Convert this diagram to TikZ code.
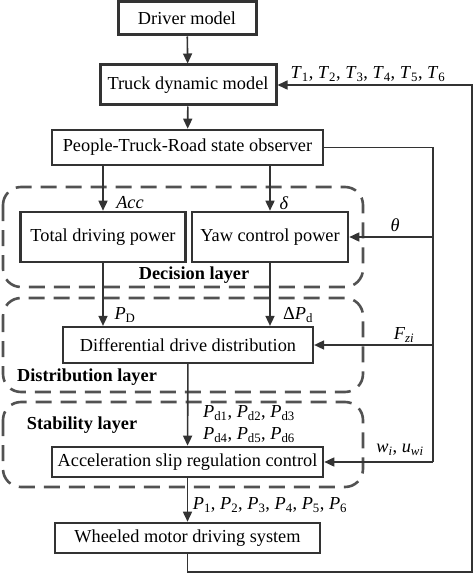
\documentclass[tikz,border=0pt]{standalone}
\usepackage{fontspec}
\setmainfont{Liberation Serif}
\usetikzlibrary{arrows.meta}
\definecolor{ink}{HTML}{333333}
\newcommand{\vs}[2]{\textit{#1}\textsubscript{#2}}

\begin{document}
\begin{tikzpicture}[line join=miter,>={Triangle[length=10pt,width=9pt]},x=1pt,y=-1pt,
  every node/.style={font=\fontsize{18.3}{21}\selectfont},
  box/.style={draw=ink,line width=2.6pt,inner sep=0pt},
  link/.style={draw=ink,line width=1.6pt},
  layer/.style={draw=ink!85,line width=2.6pt,dash pattern=on 16pt off 9pt,rounded corners=18pt},
  laytxt/.style={font=\fontsize{18.3}{21}\selectfont\bfseries}]
\useasboundingbox (0,0) rectangle (474,575);
% layers
\draw[layer] (3,187) rectangle (363,287);
\draw[layer] (3,298) rectangle (363,392);
\draw[layer] (3,402) rectangle (363,487);
\node[laytxt] (dec) at (194,275) {Decision layer};
\node[laytxt] (dis) at (87,377) {Distribution layer};
\node[laytxt] (sta) at (82,425) {Stability layer};
% blocks
\node[box,line width=3pt,minimum width=138,minimum height=33] (drv) at (187,18.5) {Driver model};
\node[box,line width=3pt,minimum width=176,minimum height=40] (trk) at (188,85) {Truck dynamic model};
\node[box,minimum width=271,minimum height=35] (obs) at (187.5,147.5) {People-Truck-Road state observer};
\node[box,minimum width=165,minimum height=50] (tot) at (103,237) {Total driving power};
\node[box,minimum width=156,minimum height=50] (yaw) at (270,237) {Yaw control power};
\node[box,line width=2.2pt,minimum width=250,minimum height=36] (ddd) at (188,345) {Differential drive distribution};
\node[box,minimum width=271,minimum height=30] (asr) at (187.5,462) {Acceleration slip regulation control};
\node[box,minimum width=265,minimum height=30] (whl) at (187.5,538) {Wheeled motor driving system};
% signals
\coordinate (bus) at (433,0);
\coordinate (back) at (472,572);
\draw[link,->] (drv) -- (trk);
\draw[link,->] (trk) -- (obs);
\draw[link,->] (tot.north |- obs.south) -- (tot);
\draw[link,->] (yaw.north |- obs.south) -- (yaw);
\draw[link,->] (tot) -- (tot.south |- ddd.north);
\draw[link,->] (yaw) -- (yaw.south |- ddd.north);
\draw[link,->] (ddd) -- (asr);
\draw[link,->] (asr) -- (whl);
\draw[link] (obs.east) -- (obs.east -| bus) -- (asr.east -| bus);
\draw[link,->] (yaw.east -| bus) -- (yaw);
\draw[link,->] (ddd.east -| bus) -- (ddd);
\draw[link,->] (asr.east -| bus) -- (asr);
\draw[link,->] (whl) |- (back) |- (trk);
% labels
\node (tq) at (368,74) {\vs{T}{1}, \vs{T}{2}, \vs{T}{3}, \vs{T}{4}, \vs{T}{5}, \vs{T}{6}};
\node (acc) at (130,203) {\textit{Acc}};
\node (dlt) at (284,203) {\textit{δ}};
\node (tht) at (395,225) {\textit{θ}};
\node (pD) at (125,315) {\vs{P}{D}};
\node (dPd) at (298,315) {Δ\vs{P}{d}};
\node (fz) at (404,335) {\vs{F}{\textit{zi}}};
\node (pd1) at (249,413) {\vs{P}{d1}, \vs{P}{d2}, \vs{P}{d3}};
\node (pd4) at (249,435) {\vs{P}{d4}, \vs{P}{d5}, \vs{P}{d6}};
\node (wu) at (400,450) {\vs{w}{\textit{i}}, \vs{u}{\textit{wi}}};
\node (pw) at (270,505) {\vs{P}{1}, \vs{P}{2}, \vs{P}{3}, \vs{P}{4}, \vs{P}{5}, \vs{P}{6}};
\end{tikzpicture}
\end{document}
